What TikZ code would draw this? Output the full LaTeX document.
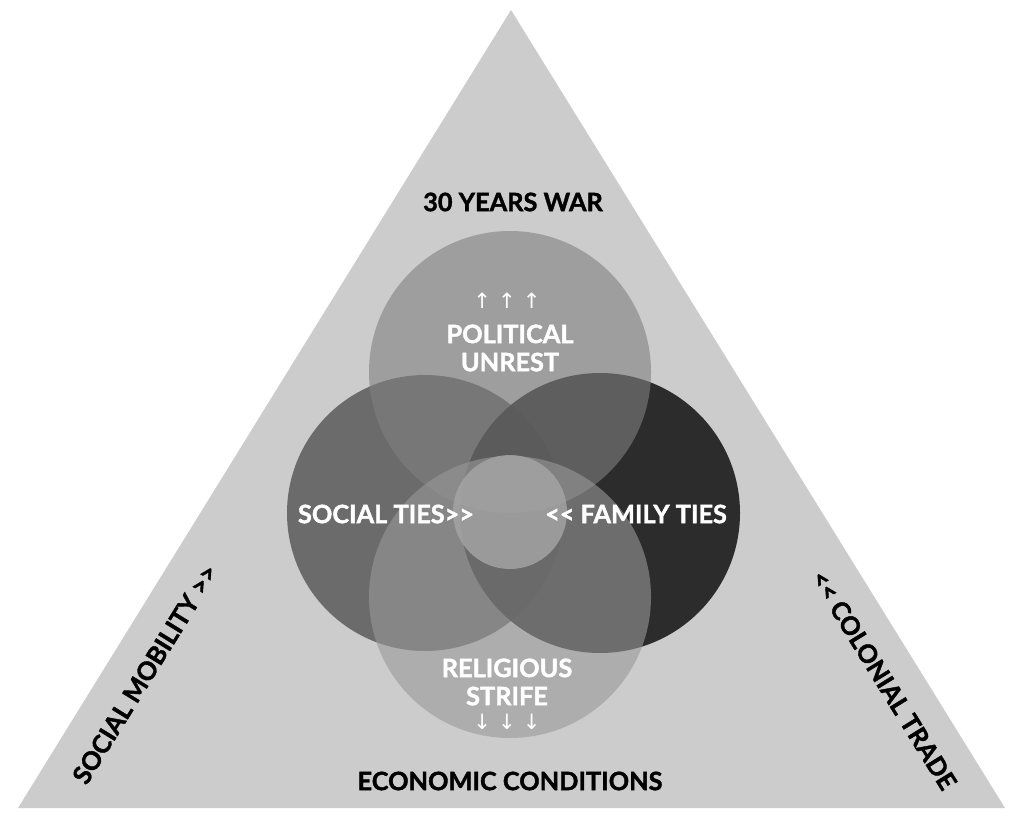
\documentclass[tikz,border=0pt]{standalone}
\usepackage{fontspec}
\setmainfont{Lato}[BoldFeatures={FakeBold=1.5}]
\newfontfamily\arrowfont{DejaVu Sans}
\begin{document}
\begin{tikzpicture}[x=0.025cm,y=-0.025cm,
  lbl/.style={font=\fontsize{18}{20}\selectfont\bfseries,align=center},
  wlbl/.style={lbl,text=white},
  circ/.style={draw=none}]
\useasboundingbox (0,0) rectangle (1024,821);
\fill[white] (0,0) rectangle (1024,821);
\coordinate (apex) at (511,10);
\coordinate (bl) at (18,808);
\coordinate (br) at (1005,808);
\fill[gray!40] (apex) -- (br) -- (bl) -- cycle;
\fill[circ,fill=black!62,opacity=.9] (425,513) circle (138);
\fill[circ,fill=black!88,opacity=.92] (600,513) circle (140);
\fill[circ,fill=black!50,opacity=.6] (510,372) circle (141);
\fill[circ,fill=black!40,opacity=.6] (510,597) circle (141);
\fill[circ,fill=black!35,opacity=.8] (510,512) circle (57);
\node[lbl] (war) at (513,202) {30 YEARS WAR};
\node[lbl] (econ) at (510,781) {ECONOMIC CONDITIONS};
\node[lbl,rotate=58.3] (mob) at (145,674) {SOCIAL MOBILITY >{}>};
\node[lbl,rotate=-58.3] (col) at (884,680) {<{}< COLONIAL TRADE};
\node[wlbl] (pol) at (510,348) {POLITICAL\\UNREST};
\node[wlbl] (rel) at (507,682) {RELIGIOUS\\STRIFE};
\node[wlbl] (soc) at (386,514) {SOCIAL TIES>{}>};
\node[wlbl] (fam) at (636,514) {<{}< FAMILY TIES};
\node[text=white,font=\arrowfont\fontsize{15}{17}\selectfont] (up) at (507,301) {↑\,\,↑\,\,↑};
\node[text=white,font=\arrowfont\fontsize{15}{17}\selectfont] (dn) at (507,722) {↓\,\,↓\,\,↓};
\end{tikzpicture}
\end{document}
